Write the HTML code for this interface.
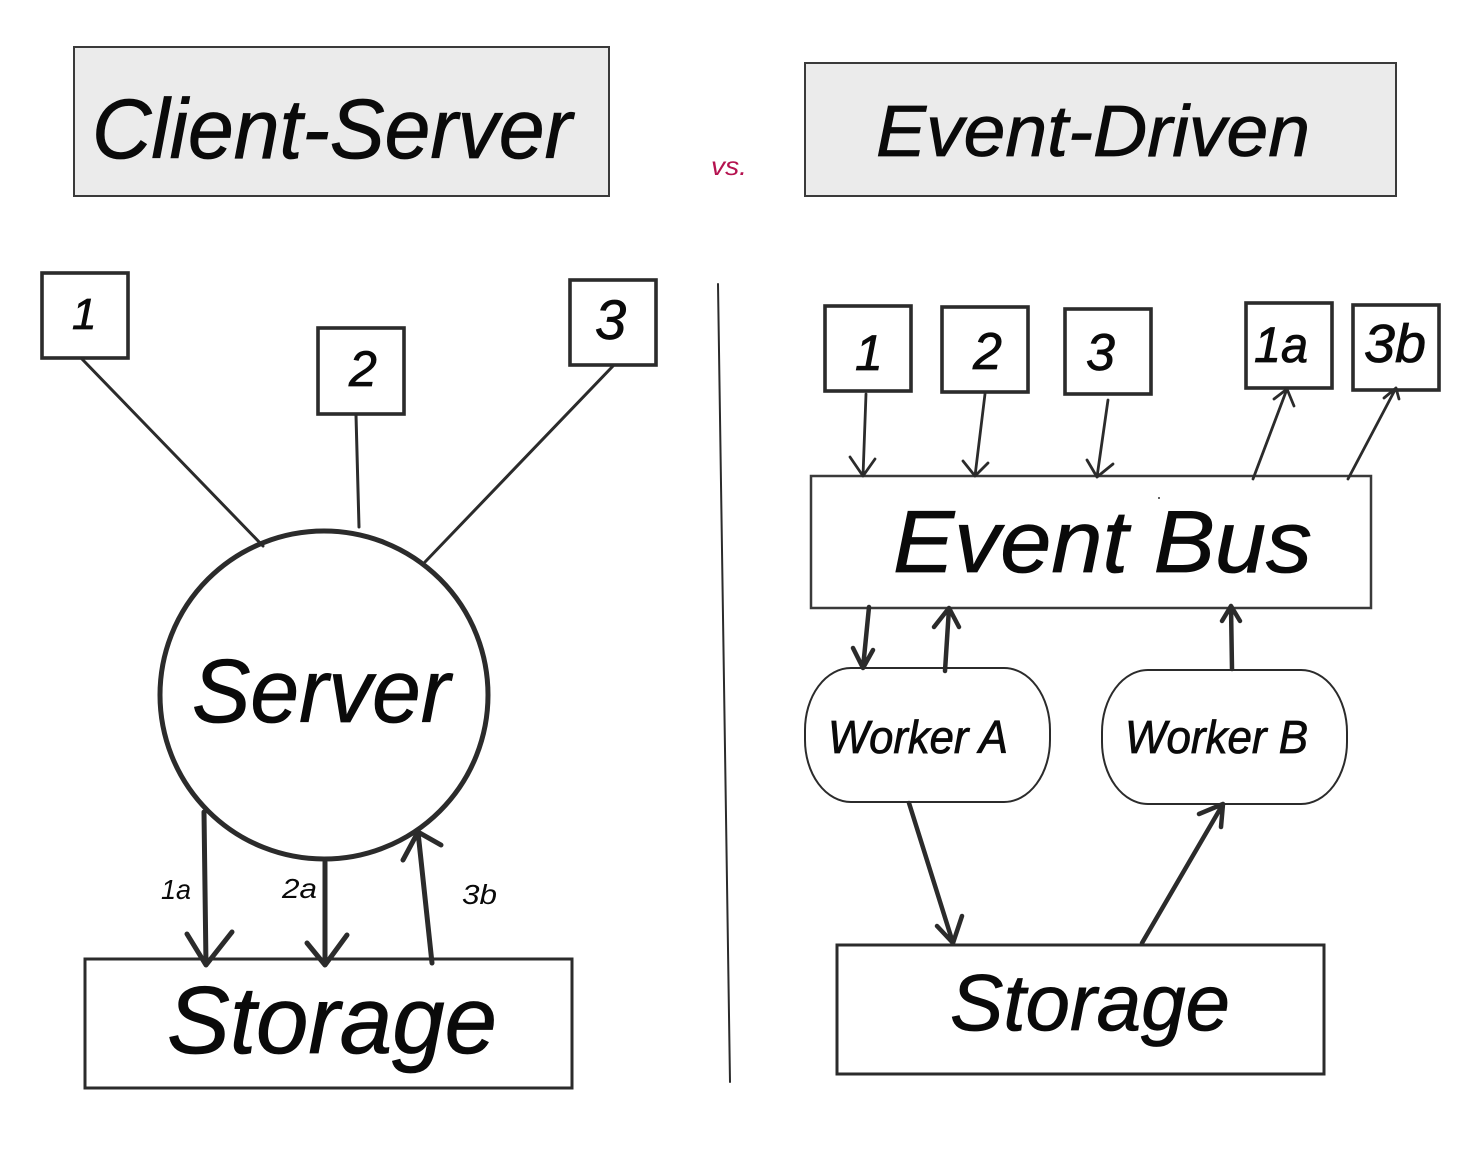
<!DOCTYPE html>
<html><head><meta charset="utf-8"><style>
html,body{margin:0;padding:0;background:#fff;width:1480px;height:1162px;overflow:hidden}
svg{display:block}
text{font-family:"Liberation Sans",sans-serif;fill:#0a0a0a;font-style:italic;stroke:#0a0a0a;stroke-width:.8}
.b{fill:#fff;stroke:#2b2b2b;stroke-width:3}
.b2{fill:#fff;stroke:#2b2b2b;stroke-width:3.6}
.h{fill:#ebebeb;stroke:#3a3a3a;stroke-width:2}
.l{fill:none;stroke:#2b2b2b;stroke-linecap:round;stroke-linejoin:round}
</style></head><body>
<svg width="1480" height="1162" viewBox="0 0 1480 1162" xmlns="http://www.w3.org/2000/svg">
<rect width="1480" height="1162" fill="#fff"/>
<rect class="h" x="74" y="47" width="535" height="149"/>
<rect class="h" x="805" y="63" width="591" height="133"/>
<text x="92" y="158" font-size="84" textLength="480" lengthAdjust="spacingAndGlyphs">Client-Server</text>
<text x="876" y="156" font-size="72" textLength="434" lengthAdjust="spacingAndGlyphs">Event-Driven</text>
<text x="711" y="175" font-size="26" textLength="36" lengthAdjust="spacingAndGlyphs" style="fill:#b5124f;stroke:none">vs.</text>
<path class="l" stroke-width="2" d="M718 284L730 1082"/>

<rect class="b2" x="42" y="273" width="86" height="85"/>
<rect class="b2" x="318" y="328" width="86" height="86"/>
<rect class="b2" x="570" y="280" width="86" height="85"/>
<text x="72" y="329" font-size="44">1</text>
<text x="349" y="386" font-size="50">2</text>
<text x="595" y="339" font-size="56">3</text>
<circle cx="324" cy="695" r="164" fill="#fff" stroke="#2b2b2b" stroke-width="5"/>
<path class="l" stroke-width="3" d="M82 359L263 546M356 415L359 527M613 366L425 562"/>
<text x="192" y="722" font-size="90" textLength="258" lengthAdjust="spacingAndGlyphs">Server</text>

<rect class="b" x="85" y="959" width="487" height="129"/>
<text x="167" y="1053" font-size="96" textLength="330" lengthAdjust="spacingAndGlyphs">Storage</text>
<path class="l" stroke-width="5" d="M204 812L206 965M187 934L206 965L232 932M325 862L325 965M307 943L325 965L347 935M432 963L418 832M403 860L418 832L441 845"/>
<text x="161" y="899" font-size="28" textLength="30" lengthAdjust="spacingAndGlyphs" style="stroke:none">1a</text>
<text x="282" y="898" font-size="28" textLength="35" lengthAdjust="spacingAndGlyphs" style="stroke:none">2a</text>
<text x="462" y="904" font-size="28" textLength="35" lengthAdjust="spacingAndGlyphs" style="stroke:none">3b</text>

<rect class="b2" x="825" y="306" width="86" height="85"/>
<rect class="b2" x="942" y="307" width="86" height="85"/>
<rect class="b2" x="1065" y="309" width="86" height="85"/>
<rect class="b2" x="1246" y="303" width="86" height="85"/>
<rect class="b2" x="1353" y="305" width="86" height="85"/>
<text x="855" y="370" font-size="50">1</text>
<text x="973" y="369" font-size="52">2</text>
<text x="1086" y="370" font-size="52">3</text>
<text x="1254" y="362" font-size="50" textLength="54" lengthAdjust="spacingAndGlyphs">1a</text>
<text x="1364" y="362" font-size="54" textLength="62" lengthAdjust="spacingAndGlyphs">3b</text>

<rect fill="#fff" stroke="#3a3a3a" stroke-width="2.5" x="811" y="476" width="560" height="132"/>
<path class="l" stroke-width="2.8" d="M866 394L863 476M850 457L863 476L875 459M985 394L975 476M963 461L975 476L988 463M1108 400L1097 477M1087 460L1097 477L1113 464M1253 479L1287 389M1274 399L1287 389L1294 406M1348 479L1396 388M1384 398L1396 388L1399 399"/>
<text x="893" y="572" font-size="88" textLength="419" lengthAdjust="spacingAndGlyphs">Event Bus</text>
<circle cx="1159" cy="498" r="1" fill="#333"/>

<rect fill="#fff" stroke="#2b2b2b" stroke-width="2" x="805" y="668" width="245" height="134" rx="46" ry="62"/>
<rect fill="#fff" stroke="#2b2b2b" stroke-width="2" x="1102" y="670" width="245" height="134" rx="46" ry="62"/>
<text x="828" y="753" font-size="46" textLength="180" lengthAdjust="spacingAndGlyphs">Worker A</text>
<text x="1125" y="753" font-size="46" textLength="183" lengthAdjust="spacingAndGlyphs">Worker B</text>
<path class="l" stroke-width="4.5" d="M869 607L863 668M853 648L863 668L873 650M945 671L949 608M934 627L949 608L959 627M1232 669L1231 606M1222 621L1231 606L1240 621"/>

<rect class="b" x="837" y="945" width="487" height="129"/>
<text x="950" y="1030" font-size="80" textLength="280" lengthAdjust="spacingAndGlyphs">Storage</text>
<path class="l" stroke-width="4.5" d="M909 803L953 943M937 926L953 943L962 916M1142 943L1223 804M1199 814L1223 804L1221 827"/>
</svg>
</body></html>
